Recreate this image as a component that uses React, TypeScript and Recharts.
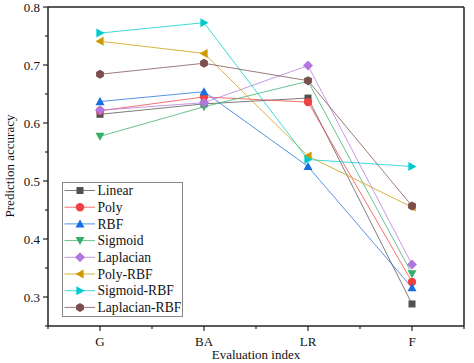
import React from 'react';
import { LineChart, Line, XAxis, YAxis, ReferenceLine, Legend, Label } from 'recharts';

const categories = ['G', 'BA', 'LR', 'F'];
const linear = [0.615, 0.633, 0.643, 0.288];
const poly = [0.621, 0.645, 0.636, 0.326];
const rbf = [0.637, 0.654, 0.525, 0.316];
const sigmoid = [0.577, 0.628, 0.672, 0.34];
const laplacian = [0.622, 0.635, 0.699, 0.356];
const polyRbf = [0.741, 0.72, 0.543, 0.455];
const sigmoidRbf = [0.755, 0.773, 0.537, 0.525];
const laplacianRbf = [0.684, 0.703, 0.673, 0.457];

const yTicks = [0.25, 0.3, 0.35, 0.4, 0.45, 0.5, 0.55, 0.6, 0.65, 0.7, 0.75, 0.8];
const xTicks = [0.5, 1, 1.5, 2, 2.5, 3, 3.5, 4, 4.5];

type Shape = 'square' | 'circle' | 'up' | 'down' | 'diamond' | 'left' | 'right' | 'hex';

const series: { key: string; values: number[]; color: string; shape: Shape }[] = [
  { key: 'Linear', values: linear, color: '#515151', shape: 'square' },
  { key: 'Poly', values: poly, color: '#F14040', shape: 'circle' },
  { key: 'RBF', values: rbf, color: '#1A6FDF', shape: 'up' },
  { key: 'Sigmoid', values: sigmoid, color: '#37AD6B', shape: 'down' },
  { key: 'Laplacian', values: laplacian, color: '#B177DE', shape: 'diamond' },
  { key: 'Poly-RBF', values: polyRbf, color: '#CC9900', shape: 'left' },
  { key: 'Sigmoid-RBF', values: sigmoidRbf, color: '#00CBCC', shape: 'right' },
  { key: 'Laplacian-RBF', values: laplacianRbf, color: '#7D4E4E', shape: 'hex' },
];

const data = categories.map((c, i) => {
  const row: Record<string, number | string> = { x: i + 1, name: c };
  series.forEach((s) => {
    row[s.key] = s.values[i];
  });
  return row;
});

const FONT = "'Liberation Serif', 'Times New Roman', serif";

function Marker({ cx, cy, shape, color }: { cx: number; cy: number; shape: Shape; color: string }) {
  const s = 4.5;
  switch (shape) {
    case 'square':
      return <rect x={cx - 3.5} y={cy - 3.5} width={7} height={7} fill={color} />;
    case 'circle':
      return <circle cx={cx} cy={cy} r={4.2} fill={color} />;
    case 'up':
      return <polygon points={`${cx},${cy - s} ${cx + s},${cy + s * 0.8} ${cx - s},${cy + s * 0.8}`} fill={color} />;
    case 'down':
      return <polygon points={`${cx},${cy + s} ${cx + s},${cy - s * 0.8} ${cx - s},${cy - s * 0.8}`} fill={color} />;
    case 'diamond':
      return <polygon points={`${cx},${cy - 5} ${cx + 5},${cy} ${cx},${cy + 5} ${cx - 5},${cy}`} fill={color} />;
    case 'left':
      return <polygon points={`${cx - s},${cy} ${cx + s * 0.8},${cy - s} ${cx + s * 0.8},${cy + s}`} fill={color} />;
    case 'right':
      return <polygon points={`${cx + s},${cy} ${cx - s * 0.8},${cy - s} ${cx - s * 0.8},${cy + s}`} fill={color} />;
    case 'hex': {
      const r = 4.5;
      const pts = [0, 1, 2, 3, 4, 5]
        .map((k) => {
          const a = (Math.PI / 3) * k + Math.PI / 6;
          return `${cx + r * Math.cos(a)},${cy + r * Math.sin(a)}`;
        })
        .join(' ');
      return <polygon points={pts} fill={color} />;
    }
  }
  return null;
}

function XTick(props: any) {
  const { x, y, payload } = props;
  const v = payload.value as number;
  const major = Number.isInteger(v);
  const label = major && v >= 1 && v <= 4 ? categories[v - 1] : '';
  return (
    <g>
      <line x1={x} y1={y} x2={x} y2={y + (major ? 5 : 3)} stroke="#222" strokeWidth={1.2} />
      {label && (
        <text x={x} y={y + 20} textAnchor="middle" fontFamily={FONT} fontSize={13} fill="#111">
          {label}
        </text>
      )}
    </g>
  );
}

function YTick(props: any) {
  const { x, y, payload } = props;
  const v = payload.value as number;
  const major = Math.abs(Math.round(v * 10) - v * 10) < 1e-6;
  return (
    <g>
      <line x1={x - (major ? 5 : 3)} y1={y} x2={x} y2={y} stroke="#222" strokeWidth={1.2} />
      {major && (
        <text x={x - 8} y={y + 4.5} textAnchor="end" fontFamily={FONT} fontSize={13} fill="#111">
          {v.toFixed(1)}
        </text>
      )}
    </g>
  );
}

function LegendBox() {
  const rowH = 16.7;
  return (
    <svg width={121} height={135}>
      <rect x={0.5} y={0.5} width={120} height={134} fill="#fff" stroke="#888" strokeWidth={1} />
      {series.map((s, i) => {
        const cy = 8.5 + i * rowH;
        return (
          <g key={s.key}>
            <line x1={2.5} y1={cy} x2={33} y2={cy} stroke={s.color} strokeWidth={1} strokeOpacity={0.75} />
            <Marker cx={18} cy={cy} shape={s.shape} color={s.color} />
            <text x={35.5} y={cy + 4.7} fontFamily={FONT} fontSize={13.6} fill="#111">
              {s.key}
            </text>
          </g>
        );
      })}
    </svg>
  );
}

export default function App() {
  return (
    <div style={{ position: 'absolute', left: 0, top: 0, width: 474, height: 363, background: '#fff' }}>
      <LineChart width={474} height={363} data={data} margin={{ top: 7, right: 10, left: 0, bottom: 0 }}>
        <XAxis
          dataKey="x"
          type="number"
          domain={[0.5, 4.5]}
          ticks={xTicks}
          interval={0}
          tick={<XTick />}
          tickLine={false}
          tickSize={0}
          tickMargin={0}
          height={37}
          axisLine={{ stroke: '#222', strokeWidth: 1.5 }}
        >
          <Label
            content={() => (
              <text x={256} y={359} textAnchor="middle" fontFamily={FONT} fontSize={13} fill="#111">
                Evaluation index
              </text>
            )}
          />
        </XAxis>
        <YAxis
          type="number"
          domain={[0.25, 0.8]}
          ticks={yTicks}
          interval={0}
          tick={<YTick />}
          tickLine={false}
          tickSize={0}
          tickMargin={0}
          width={48}
          axisLine={{ stroke: '#222', strokeWidth: 1.5 }}
        >
          <Label
            content={() => (
              <text
                x={14}
                y={166}
                textAnchor="middle"
                fontFamily={FONT}
                fontSize={13}
                fill="#111"
                transform="rotate(-90 14 166)"
              >
                Prediction accuracy
              </text>
            )}
          />
        </YAxis>
        <ReferenceLine y={0.8} stroke="#222" strokeWidth={1.5} />
        <ReferenceLine x={4.5} stroke="#222" strokeWidth={1.5} />
        {series.map((s) => (
          <Line
            key={s.key}
            dataKey={s.key}
            stroke={s.color}
            strokeWidth={1}
            strokeOpacity={0.75}
            isAnimationActive={false}
            dot={(p: any) => (
              <Marker key={`${s.key}-${p.index}`} cx={p.cx} cy={p.cy} shape={s.shape} color={s.color} />
            )}
            activeDot={false}
          />
        ))}
        <Legend
          layout="vertical"
          align="center"
          verticalAlign="middle"
          content={() => <LegendBox />}
          wrapperStyle={{ position: 'absolute', left: 62, top: 182, width: 121, height: 135 }}
        />
      </LineChart>
    </div>
  );
}
